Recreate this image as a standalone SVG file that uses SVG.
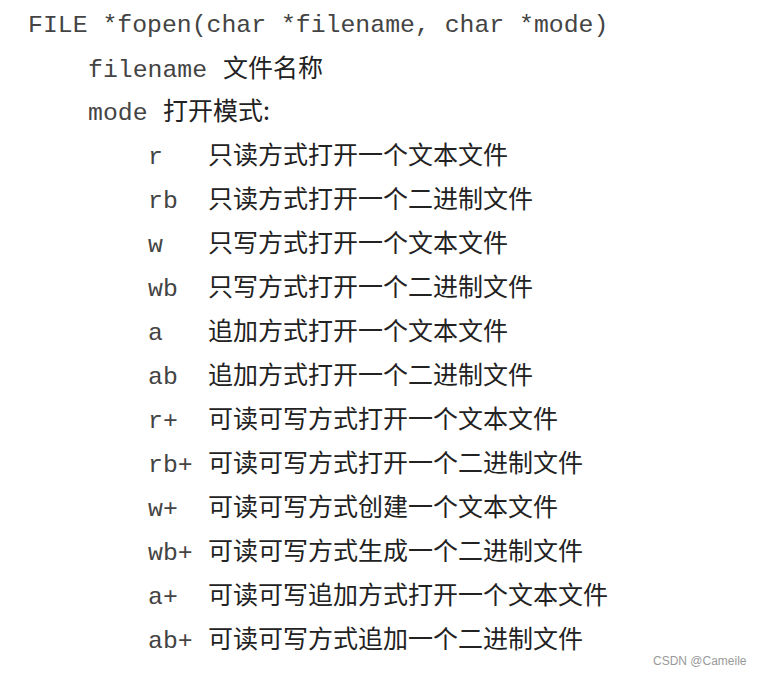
<svg xmlns="http://www.w3.org/2000/svg" width="762" height="674" viewBox="0 0 762 674">
<style>
.m{font-family:"Liberation Mono",monospace;font-size:24.8px;fill:#444}
.c{font-family:"Noto Sans CJK SC",sans-serif;font-size:25px;fill:#222}
.w{font-family:"Liberation Sans",sans-serif;font-size:12px;fill:#999}
</style>
<rect width="762" height="674" fill="#fff"/>
<text class="m" x="28" y="32">FILE *fopen(char *filename, char *mode)</text>
<text class="m" x="88" y="77">filename</text><text class="c" x="223" y="77">文件名称</text>
<text class="m" x="88" y="120">mode</text><text class="c" x="163" y="120">打开模式:</text>
<g class="m">
<text x="148" y="164">r</text><text x="148" y="208">rb</text><text x="148" y="252">w</text><text x="148" y="296">wb</text>
<text x="148" y="340">a</text><text x="148" y="384">ab</text><text x="148" y="428">r+</text><text x="148" y="472">rb+</text>
<text x="148" y="516">w+</text><text x="148" y="560">wb+</text><text x="148" y="604">a+</text><text x="148" y="648">ab+</text>
</g>
<g class="c">
<text x="208" y="164">只读方式打开一个文本文件</text>
<text x="208" y="208">只读方式打开一个二进制文件</text>
<text x="208" y="252">只写方式打开一个文本文件</text>
<text x="208" y="296">只写方式打开一个二进制文件</text>
<text x="208" y="340">追加方式打开一个文本文件</text>
<text x="208" y="384">追加方式打开一个二进制文件</text>
<text x="208" y="428">可读可写方式打开一个文本文件</text>
<text x="208" y="472">可读可写方式打开一个二进制文件</text>
<text x="208" y="516">可读可写方式创建一个文本文件</text>
<text x="208" y="560">可读可写方式生成一个二进制文件</text>
<text x="208" y="604">可读可写追加方式打开一个文本文件</text>
<text x="208" y="648">可读可写方式追加一个二进制文件</text>
</g>
<text class="w" x="653" y="665">CSDN @Cameile</text>
</svg>
